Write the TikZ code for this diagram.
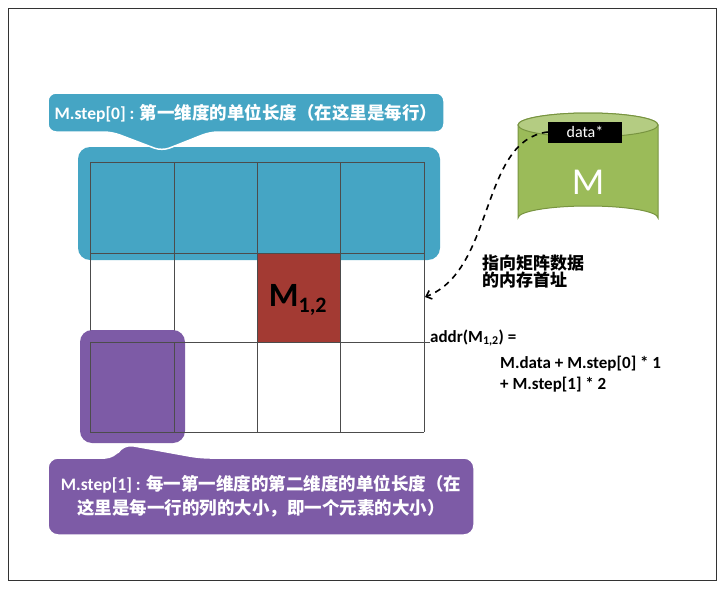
\documentclass[tikz,border=0pt]{standalone}
\usepackage{fontspec}
\setmainfont{Carlito}
\newfontfamily\cjk{Noto Sans CJK SC}
\usetikzlibrary{arrows.meta}
\definecolor{teal1}{HTML}{45A5C4}
\definecolor{purp1}{HTML}{7D5BA6}
\definecolor{red1}{HTML}{A33A33}
\definecolor{grn1}{HTML}{9BBB59}
\definecolor{grn2}{HTML}{789440}
\tikzset{
  cell/.style={draw=black!70, line width=0.7pt},
  lbl/.style={font=\bfseries\fontsize{17}{20}\selectfont, align=left, anchor=west, inner sep=0pt},
  callout/.style={white, font=\bfseries\fontsize{17.5}{24}\selectfont, align=center, inner sep=0pt}
}
\begin{document}
\begin{tikzpicture}[x=1pt,y=-1pt]
\useasboundingbox (0,0) rectangle (724,589);
\fill[white] (0,0) rectangle (724,589);
\draw[black!80, line width=0.8pt] (8,8) rectangle (716,580);
% teal highlight
\fill[teal1, rounded corners=12pt] (78,147) rectangle (440,260);
% teal callout
\fill[teal1, draw=white, line width=1.5pt, rounded corners=8pt] (48,93) -- (444,93) -- (444,132) -- (210,132) -- (162,151) -- (112,132) -- (48,132) -- cycle;
\node[callout] (c0) at (246,113) {M.step[0] : {\cjk 第一维度的单位长度（在这里是每行）}};
% red cell
\fill[red1] (257,253) rectangle (340,342);
% grid
\foreach \x in {90,174,257,340,424} \draw[cell] (\x,162) -- (\x,432);
\foreach \y in {162,253,342,432} \draw[cell] (90,\y) -- (424,\y);
\draw[cell] (424,342) -- (430,342);
\node[font=\bfseries\fontsize{34}{36}\selectfont, text=black] (m12) at (298,300) {M\textsubscript{\fontsize{22}{24}\selectfont 1,2}};
% purple highlight
\fill[purp1, rounded corners=12pt] (80,330) rectangle (185,443);
\draw[cell] (90,342) -- (185,342) (90,342) -- (90,432) -- (185,432) (174,342) -- (174,432);
% purple callout
\fill[purp1, draw=white, line width=1.5pt, rounded corners=10pt] (48,458) -- (115,458) -- (123,444) -- (200,458) -- (474,458) -- (474,535) -- (48,535) -- cycle;
\node[callout] (c1) at (261,496) {M.step[1] : {\cjk 每一第一维度的第二维度的单位长度（在}\\{\cjk 这里是每一行的列的大小，即一个元素的大小）}};
% cylinder
\fill[grn1, draw=grn2, line width=1pt] (518,125) -- (518,218) arc[start angle=180, end angle=360, x radius=70, y radius=12] -- (658,125) arc[start angle=0, end angle=-180, x radius=70, y radius=12] -- cycle;
\draw[grn2, line width=1pt, fill=grn1!75!white] (588,125) ellipse[x radius=70, y radius=12];
\node[fill=black, text=white, font=\fontsize{16}{18}\selectfont, minimum width=74pt, minimum height=21pt, inner sep=0pt] (data) at (585,132) {data*};
\node[text=white, font=\fontsize{38}{40}\selectfont] (M) at (588,182) {M};
\coordinate (tgt) at (425,297);
\draw[dashed, line width=1.6pt, dash pattern=on 6pt off 5pt, -{Straight Barb[length=5pt,width=9pt]}] (data.west) .. controls (480,140) and (495,270) .. (tgt);
\node[lbl] (note) at (482,272) {\cjk 指向矩阵数据\\[-3pt]\cjk 的内存首址};
\node[lbl] (addr) at (430,338) {addr(M\textsubscript{1,2}) =};
\node[lbl] (f1) at (500,364) {M.data + M.step[0] * 1};
\node[lbl] (f2) at (500,385) {+ M.step[1] * 2};
\end{tikzpicture}
\end{document}
